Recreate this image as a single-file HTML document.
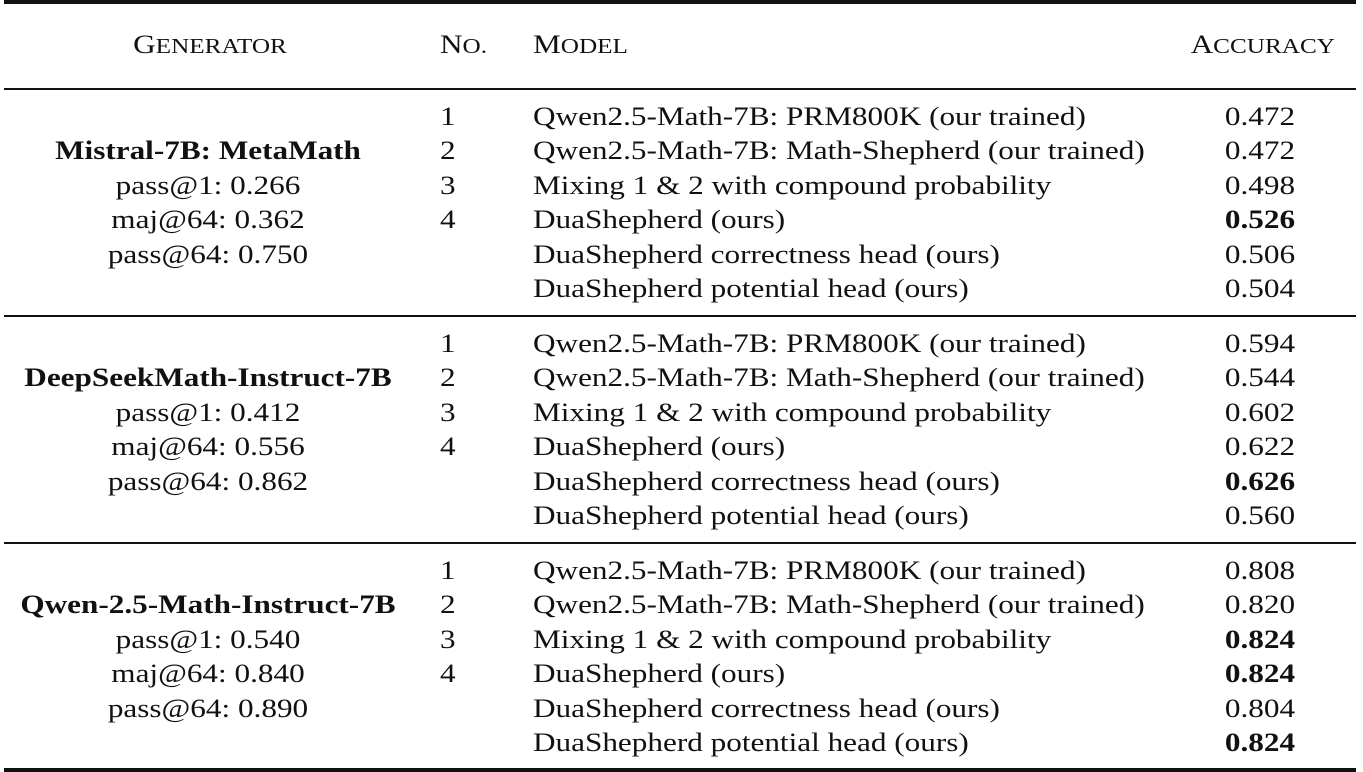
<!DOCTYPE html>
<html><head><style>
body{margin:0;width:1363px;height:772px;background:#fff;position:relative;overflow:hidden;font-family:"Liberation Serif",serif;font-size:26px;color:#111}
.t{position:absolute;height:34px;line-height:34px;white-space:nowrap;transform:scaleX(1.2);transform-origin:left center}
.c{text-align:center;width:400px;transform-origin:center center}
.r{position:absolute;left:4px;width:1352px;background:#111}
.s{font-size:21px}
b{font-weight:bold}
</style></head><body>
<div class="r" style="top:0;height:4px"></div>
<div class="r" style="top:88px;height:2px"></div>
<div class="r" style="top:315px;height:2px"></div>
<div class="r" style="top:542px;height:2px"></div>
<div class="r" style="top:768px;height:4px"></div>
<div class="t c" style="left:10px;top:28px">G<span class="s">ENERATOR</span></div>
<div class="t" style="left:440px;top:28px">N<span class="s">O.</span></div>
<div class="t" style="left:533px;top:28px">M<span class="s">ODEL</span></div>
<div class="t" style="left:1135px;top:28px;width:200px;text-align:right;transform-origin:right center">A<span class="s">CCURACY</span></div>
<div id="body"></div>
<script>
const secs=[
{y:117,g:["Mistral-7B: MetaMath","pass@1: 0.266","maj@64: 0.362","pass@64: 0.750"],a:["0.472","0.472","0.498","<b>0.526</b>","0.506","0.504"]},
{y:344,g:["DeepSeekMath-Instruct-7B","pass@1: 0.412","maj@64: 0.556","pass@64: 0.862"],a:["0.594","0.544","0.602","0.622","<b>0.626</b>","0.560"]},
{y:571,g:["Qwen-2.5-Math-Instruct-7B","pass@1: 0.540","maj@64: 0.840","pass@64: 0.890"],a:["0.808","0.820","<b>0.824</b>","<b>0.824</b>","0.804","<b>0.824</b>"]}];
const m=["Qwen2.5-Math-7B: PRM800K (our trained)","Qwen2.5-Math-7B: Math-Shepherd (our trained)","Mixing 1 &amp; 2 with compound probability","DuaShepherd (ours)","DuaShepherd correctness head (ours)","DuaShepherd potential head (ours)"];
let h="";
for(const s of secs){for(let i=0;i<6;i++){const y=s.y+i*34.4-17;
if(i<4)h+=`<div class="t" style="left:440px;top:${y}px">${i+1}</div>`;
h+=`<div class="t" style="left:533px;top:${y}px">${m[i]}</div>`;
h+=`<div class="t" style="left:1160px;width:200px;text-align:center;transform-origin:center center;top:${y}px">${s.a[i]}</div>`;
if(i>=1&&i<=4){const g=s.g[i-1];h+=`<div class="t c" style="left:8px;top:${y}px">${i==1?"<b>"+g+"</b>":g}</div>`;}}}
document.getElementById("body").innerHTML=h;
</script>
</body></html>
